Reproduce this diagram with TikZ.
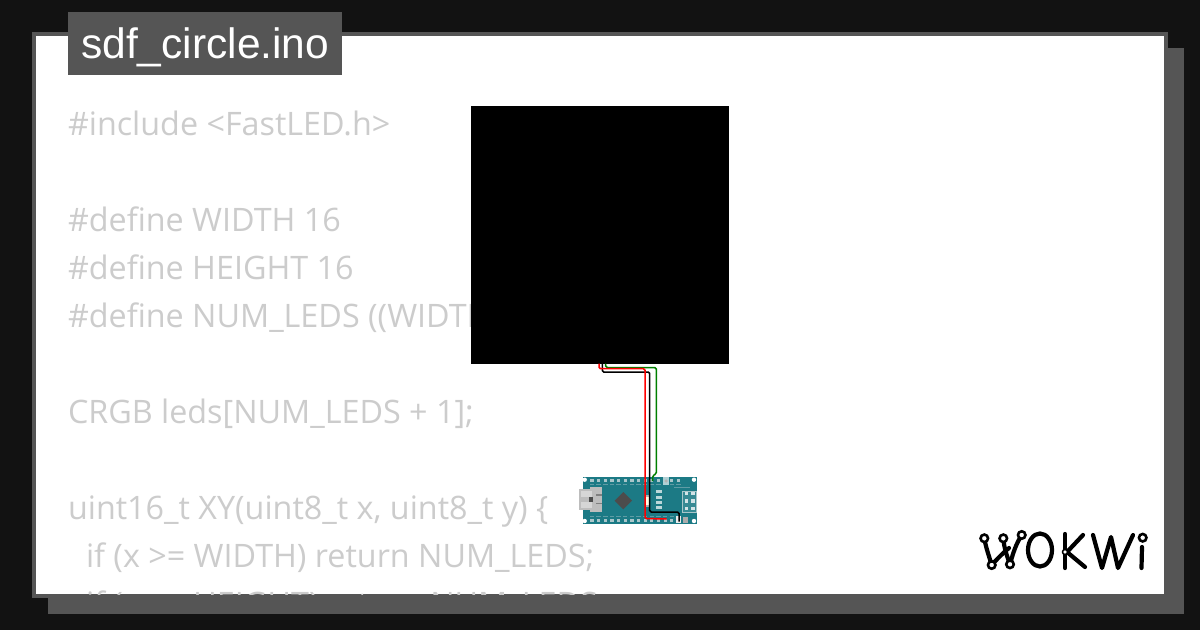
\documentclass[tikz,border=0pt]{standalone}
\usepackage{fontspec}
\setmainfont{Open Sans}
\newfontfamily\titlefont{Liberation Sans}
\definecolor{bgdark}{HTML}{121212}
\definecolor{frame}{HTML}{555555}
\definecolor{codegray}{HTML}{CCCCCC}
\definecolor{board}{HTML}{1C7A85}
\definecolor{pinlight}{HTML}{A9C6CA}
\definecolor{silk}{HTML}{5F9CA5}
\definecolor{wgreen}{HTML}{008000}
\definecolor{usbgray}{HTML}{BDBDBD}
\definecolor{usblight}{HTML}{D6D6D6}
\tikzset{
  x=1pt,y=-1pt,
  code/.style={anchor=base west,inner sep=0pt,outer sep=0pt,text=codegray,font=\fontsize{32.3}{33}\selectfont},
  wire/.style={line width=1.5pt,rounded corners=1.5pt},
  logo/.style={line width=4.2pt,line cap=round,line join=round,black},
  ring/.style={draw=black,line width=2.6pt,fill=white},
  pinhole/.style={fill=pinlight,draw=none},
}
\begin{document}
\begin{tikzpicture}
\useasboundingbox (0,0) rectangle (1200,630);
\fill[bgdark] (0,0) rectangle (1200,630);
\fill[frame] (48,48) rectangle (1184,614);
\fill[frame] (32,32) rectangle (1168,598);
\fill[white] (36,36) rectangle (1164,594);
\begin{scope}
\clip (36,36) rectangle (1164,594);
\node[code] (l1) at (68,135.5) {\#include <FastLED.h>};
\node[code] (l2) at (68,231.5) {\#define WIDTH 16};
\node[code] (l3) at (68,279.5) {\#define HEIGHT 16};
\node[code] (l4) at (68,327.5) {\#define NUM\_LEDS ((WIDTH};
\node[code] (l5) at (68,423.5) {CRGB leds[NUM\_LEDS + 1];};
\node[code] (l6) at (68,519.5) {uint16\_t XY(uint8\_t x, uint8\_t y) \{};
\node[code] (l7) at (86,567.5) {if (x >= WIDTH) return NUM\_LEDS;};
\node[code] (l8) at (86,615.5) {if (y >= HEIGHT) return NUM\_LEDS;};
\end{scope}
% title
\fill[frame] (68,12) rectangle (342,75);
\node[anchor=base west,inner sep=0pt,text=white,font=\titlefont\fontsize{42.5}{43}\selectfont] (title) at (81,58) {sdf\_circle.ino};
% matrix
\node[fill=black,draw=none,minimum width=258pt,minimum height=258pt,inner sep=0pt,outer sep=0pt,anchor=north west] (matrix) at (471,105.5) {};
% nano
\node[fill=board,draw=none,minimum width=114.5pt,minimum height=46.5pt,inner sep=0pt,outer sep=0pt,anchor=north west] (nano) at (582.5,477) {};
\foreach \i in {0,...,13}{
  \fill[pinhole] ({592+\i*6.65-1.6},478.8) rectangle ++(3.2,3.2);
  \fill[pinhole] ({592+\i*6.65-1.6},519.2) rectangle ++(3.2,3.2);
  \fill[silk] ({592+\i*6.65-2.2},484.2) rectangle ++(4.4,1.2);
  \fill[silk] ({592+\i*6.65-2.2},516) rectangle ++(4.4,1.2);
}
\foreach \x/\y in {584.7/479.7,694/479.7,584.7/521,694/521}{\fill[white] (\x,\y) circle (2.2);}
% usb
\fill[usbgray] (579,489) rectangle (596,510);
\fill[usbgray] (590,486.5) rectangle (601.5,511.5);
\fill[usblight] (581,491) rectangle (592,497);
\fill[usblight] (581,501.5) rectangle (592,507.5);
\fill[black!70] (589,497) rectangle (592.5,502);
\fill[gray] (596,494) rectangle (601.5,495.6);
\fill[gray] (596,502.5) rectangle (601.5,504.1);
% chip
\fill[black!70] (623.3,492) -- (632,500.7) -- (623.3,509.4) -- (614.6,500.7) -- cycle;
% crystal
\fill[white!90!yellow] (645.5,495) rectangle (649.8,507);
\fill[gray!60] (645.5,495) rectangle (649.8,497);
\fill[gray!60] (645.5,505) rectangle (649.8,507);
% smd
\foreach \y in {490,496,501,506}{\fill[white!70!board] (656,\y) rectangle ++(6,3.3);}
% reset
\fill[white!65!board] (663,477) rectangle (669.3,485);
\fill[gray!60] (666.1,481) circle (1.8);
% icsp
\fill[white!12!board] (682,491) rectangle (696,512);
\draw[pinlight,line width=.6pt] (682,491) rectangle (696,512);
\foreach \y in {493.5,501,508.5}{
  \fill[white!80!board] (684.5,\y-1.7) rectangle ++(3.4,3.4);
  \fill[white!80!board] (691.3,\y-1.7) rectangle ++(3.4,3.4);
}
\fill[silk] (674,486.5) rectangle (690,487.7);
\fill[white!85!gray] (676,515.5) rectangle (681,523);
\fill[gray!65] (683,517) rectangle (688,523);
% wires
\coordinate (rs) at (599,363.5);
\coordinate (bs) at (602.3,363.5);
\coordinate (gs) at (605.7,363.5);
\coordinate (re) at (666.7,519);
\coordinate (be) at (679,521.5);
\coordinate (ge) at (652.7,481);
\draw[wire,wgreen] (gs) -- (605.7,367.5) -- (656.3,367.5) -- (656.3,474) -- (652.7,475.5) -- (ge);
\draw[wire,black] (bs) -- (602.3,372) -- (649.7,372) -- (649.7,512) -- (679,512) -- (be);
\draw[wire,red] (rs) -- (599,368.7) -- (645,368.7) -- (645,518.5) -- (re);
% logo
\draw[logo] (984.3,538.3) .. controls (986,548) and (989,556) .. (991.7,565);
\draw[logo] (991.7,565) .. controls (997,559) and (1003,553) .. (1009,548);
\draw[logo] (1003.3,538.3) .. controls (1004,548) and (1007,556) .. (1010,564.3);
\draw[logo] (1010,564.3) .. controls (1013,553) and (1016,544) .. (1021.7,535);
\node[ring,circle,minimum size=7.5pt,inner sep=0pt] (c1) at (984.3,538.3) {};
\node[ring,circle,minimum size=7.5pt,inner sep=0pt] (c2) at (1003.3,538.3) {};
\node[ring,circle,minimum size=7.5pt,inner sep=0pt] (c3) at (1021.7,535) {};
\node[ring,circle,minimum size=7.5pt,inner sep=0pt] (c4) at (991.7,565) {};
\node[ring,circle,minimum size=7.5pt,inner sep=0pt] (c5) at (1010,564.3) {};
\draw[logo] (1040,550) ellipse (12 and 16.5);
\draw[logo] (1065,534) -- (1065,568);
\draw[logo] (1083,535) -- (1067,552) -- (1085,567);
\node[ring,circle,minimum size=5pt,inner sep=0pt,line width=1.5pt] (c6) at (1065,552) {};
\draw[logo] (1093,535) -- (1102,568) -- (1111,537) -- (1118,568) -- (1133,535);
\draw[logo] (1142,547) -- (1141.5,568);
\node[ring,circle,minimum size=7.5pt,inner sep=0pt] (c7) at (1142.7,537.7) {};
\end{tikzpicture}
\end{document}
